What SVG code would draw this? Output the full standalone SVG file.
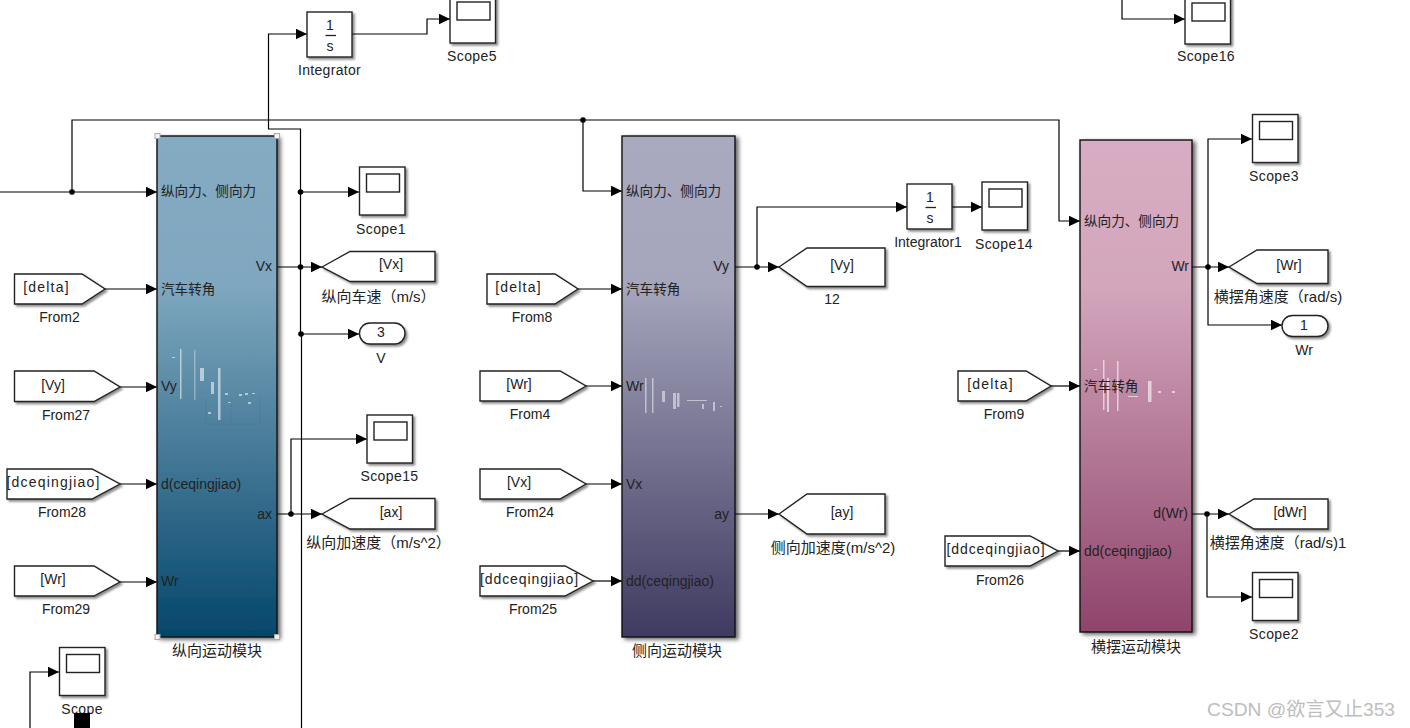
<svg xmlns="http://www.w3.org/2000/svg" xmlns:xlink="http://www.w3.org/1999/xlink" width="1410" height="728" viewBox="0 0 1410 728">
<style>
text{font-family:"Liberation Sans","Noto Sans CJK SC",sans-serif;font-size:14px;fill:#222}
.m{text-anchor:middle}
.e{text-anchor:end}
.c{font-size:15px}
.p{font-size:13.600px}
.s{letter-spacing:.4px}
.b{fill:#fff;stroke:#222;stroke-width:1.4;filter:url(#sh)}
.sub{stroke:#111;stroke-width:1.4;filter:url(#sh2)}
.w{fill:none;stroke:#000;stroke-width:1.2}
.a{fill:#000;stroke:none}
.i{fill:#fff;stroke:#222;stroke-width:1.4}
.h{fill:#f2f2f2;stroke:#aaa;stroke-width:1}
.t rect{fill:#fff;stroke:none}
.t path{fill:none;stroke:#2f5f7f;stroke-width:.6;stroke-dasharray:1 1}
</style>
<defs>
<linearGradient id="g1" x1="0" y1="0" x2="0" y2="1"><stop offset="0" stop-color="#85abc2"/><stop offset=".3" stop-color="#7fa7bf"/><stop offset="1" stop-color="#04466b"/></linearGradient>
<linearGradient id="g2" x1="0" y1="0" x2="0" y2="1"><stop offset="0" stop-color="#a9a9c0"/><stop offset=".3" stop-color="#a5a5bc"/><stop offset="1" stop-color="#3f3a60"/></linearGradient>
<linearGradient id="g3" x1="0" y1="0" x2="0" y2="1"><stop offset="0" stop-color="#d8acc2"/><stop offset=".3" stop-color="#d3a6bc"/><stop offset="1" stop-color="#8f446b"/></linearGradient>
<filter id="sh" x="-20%" y="-20%" width="150%" height="150%"><feDropShadow dx="2" dy="2" stdDeviation="1.2" flood-color="#000" flood-opacity=".45"/></filter>
<filter id="sh2" x="-10%" y="-5%" width="125%" height="110%"><feDropShadow dx="3" dy="2" stdDeviation="2" flood-color="#000" flood-opacity=".6"/></filter>
<marker id="arr" markerUnits="userSpaceOnUse" markerWidth="12" markerHeight="12" refX="11.500" refY="5.500" orient="auto"><path class="a" d="M0 0L11.500 5.500L0 11Z"/></marker>
<g id="scope"><rect class="b" x="0" y="0" width="45.500" height="48"/><rect class="i" x="7" y="7" width="33" height="18"/></g>
<g id="intg"><rect class="b" x="0" y="0" width="45" height="45"/><path d="M18.500 23.500H29" stroke="#222" stroke-width="1.300"/></g>
</defs>
<rect width="1410" height="728" fill="#fff"/>

<g id="connectors">
<path class="w" d="M0 192H72"/>
<path class="w" d="M72 192H157" marker-end="url(#arr)"/>
<path class="w" d="M72 192V120H1059V221H1080" marker-end="url(#arr)"/>
<path class="w" d="M583 120V191H622" marker-end="url(#arr)"/>
<path class="w" d="M268.500 120V34H307" marker-end="url(#arr)"/>
<path class="w" d="M268.500 120V129H300.500V334H301.500V728"/>
<path class="w" d="M352 34H427V19H450" marker-end="url(#arr)"/>
<path class="w" d="M301 192H359" marker-end="url(#arr)"/>
<path class="w" d="M277 267H322" marker-end="url(#arr)"/>
<path class="w" d="M301 334H359" marker-end="url(#arr)"/>
<path class="w" d="M277 514H322" marker-end="url(#arr)"/>
<path class="w" d="M291 514V439H367" marker-end="url(#arr)"/>
<path class="w" d="M105 289H157" marker-end="url(#arr)"/>
<path class="w" d="M120 387H157" marker-end="url(#arr)"/>
<path class="w" d="M120 484H157" marker-end="url(#arr)"/>
<path class="w" d="M120 582H157" marker-end="url(#arr)"/>
<path class="w" d="M30 728V672H59" marker-end="url(#arr)"/>
<path class="w" d="M578 289H622" marker-end="url(#arr)"/>
<path class="w" d="M586 386H622" marker-end="url(#arr)"/>
<path class="w" d="M586 484H622" marker-end="url(#arr)"/>
<path class="w" d="M593 581H622" marker-end="url(#arr)"/>
<path class="w" d="M735 267H779" marker-end="url(#arr)"/>
<path class="w" d="M757 267V207H907" marker-end="url(#arr)"/>
<path class="w" d="M952 207H982" marker-end="url(#arr)"/>
<path class="w" d="M735 514H779" marker-end="url(#arr)"/>
<path class="w" d="M1051 386H1080" marker-end="url(#arr)"/>
<path class="w" d="M1058 551H1080" marker-end="url(#arr)"/>
<path class="w" d="M1192 267H1229" marker-end="url(#arr)"/>
<path class="w" d="M1208 267V139H1252" marker-end="url(#arr)"/>
<path class="w" d="M1208 267V325H1282" marker-end="url(#arr)"/>
<path class="w" d="M1192 514H1229" marker-end="url(#arr)"/>
<path class="w" d="M1207 514V597H1252" marker-end="url(#arr)"/>
<path class="w" d="M1122 0V19H1185" marker-end="url(#arr)"/>
<g fill="#000"><circle cx="72" cy="192" r="2.800"/><circle cx="583" cy="120" r="2.800"/><circle cx="300.500" cy="192" r="2.800"/><circle cx="300.500" cy="267" r="2.800"/><circle cx="301" cy="334" r="2.800"/><circle cx="291" cy="514" r="2.800"/><circle cx="757" cy="267" r="2.800"/><circle cx="1208" cy="267" r="2.800"/><circle cx="1207" cy="514" r="2.800"/></g>
</g>

<g id="longitudinal">
<rect class="sub" x="157" y="136" width="120" height="501" fill="url(#g1)"/>
<g class="t" opacity=".55"><rect x="180" y="349" width="1.500" height="50"/><rect x="194" y="350" width="1.500" height="50" opacity=".6"/><rect x="200" y="368" width="4" height="13"/><rect x="218" y="368" width="2.500" height="52"/><rect x="211" y="382" width="3" height="12"/><rect x="172" y="357" width="3" height="1"/><rect x="225" y="393" width="3" height="2"/><rect x="239" y="394" width="3" height="2"/><rect x="245" y="393" width="3" height="2"/><rect x="252" y="393" width="3" height="1"/><rect x="228" y="402" width="3" height="1"/><rect x="248" y="402" width="3" height="2"/><rect x="208" y="412" width="3" height="2"/><path d="M206 399V424H260V395M231 402V424"/></g>
<text class="p" x="161" y="196">纵向力、侧向力</text><text class="p" x="161" y="294">汽车转角</text><text x="161" y="391">Vy</text><text x="161" y="489">d(ceqingjiao)</text><text x="161" y="586">Wr</text>
<text class="e" x="272" y="271">Vx</text><text class="e" x="272" y="519">ax</text>
<rect class="h" x="155" y="133.500" width="5" height="5"/><rect class="h" x="274.500" y="133.500" width="5" height="5"/><rect class="h" x="155" y="634.500" width="5" height="5"/><rect class="h" x="274.500" y="634.500" width="5" height="5"/>
<text class="m c" x="217" y="656">纵向运动模块</text>
</g>
<g id="lateral">
<rect class="sub" x="622" y="136" width="113" height="501" fill="url(#g2)"/>
<g class="t" opacity=".5"><rect x="636" y="383" width="1.500" height="1"/><rect x="645" y="378" width="1.500" height="35"/><rect x="652" y="378" width="1.500" height="35"/><rect x="662" y="391" width="3" height="11"/><rect x="673" y="393" width="3" height="16"/><rect x="677" y="393" width="2.500" height="14"/><rect x="687" y="400" width="20" height="1"/><rect x="702" y="404" width="2" height="5"/><rect x="713" y="402" width="2" height="9"/><rect x="720" y="406" width="2" height="1"/></g>
<text class="p" x="626" y="196">纵向力、侧向力</text><text class="p" x="626" y="294">汽车转角</text><text x="626" y="391">Wr</text><text x="626" y="489">Vx</text><text x="626" y="586">dd(ceqingjiao)</text>
<text class="e" x="729" y="271">Vy</text><text class="e" x="729" y="519">ay</text>
<text class="m c" x="677" y="656">侧向运动模块</text>
</g>
<g id="yaw">
<rect class="sub" x="1080" y="140" width="112" height="492" fill="url(#g3)"/>
<g class="t" opacity=".6"><rect x="1103" y="360" width="1.500" height="50"/><rect x="1117" y="361" width="1.500" height="50"/><rect x="1107" y="378" width="2" height="34"/><rect x="1148" y="381" width="3.500" height="21"/><rect x="1128" y="396" width="10" height="1"/><rect x="1158" y="391" width="3" height="2"/><rect x="1172" y="391" width="3" height="2"/><rect x="1094" y="369" width="3" height="1"/></g>
<text class="p" x="1084" y="226">纵向力、侧向力</text><text class="p" x="1084" y="391">汽车转角</text><text x="1084" y="556">dd(ceqingjiao)</text>
<text class="e" x="1189" y="271">Wr</text><text class="e" x="1188" y="518">d(Wr)</text>
<text class="m c" x="1136" y="652">横摆运动模块</text>
</g>

<g id="Integrator"><use href="#intg" x="307" y="12"/><text class="m" x="330" y="30">1</text><text class="m" x="330" y="51">s</text><text class="m" x="329.500" y="75" letter-spacing=".3">Integrator</text></g>
<g id="Scope5"><use href="#scope" x="450" y="-5"/><text class="m s" x="472" y="61">Scope5</text></g>
<g id="Scope1"><use href="#scope" x="359.500" y="167"/><text class="m s" x="381" y="234">Scope1</text></g>
<g id="GotoVx"><polygon class="b" points="322,267 350,251.500 435,251.500 435,281.500 350,281.500"/><text class="m" x="391" y="269">[Vx]</text><text class="m c" x="378.500" y="302">纵向车速（m/s）</text></g>
<g id="V"><rect class="b" x="359.500" y="323" width="45.500" height="21" rx="10.500"/><text class="m" x="381" y="337">3</text><text class="m" x="381" y="363">V</text></g>
<g id="Scope15"><use href="#scope" x="367" y="415"/><text class="m s" x="389.500" y="481">Scope15</text></g>
<g id="Gotoax"><polygon class="b" points="322,514 350,498.500 435,498.500 435,529 350,529"/><text class="m" x="391" y="517">[ax]</text><text class="m c" x="378.500" y="548">纵向加速度（m/s^2）</text></g>
<g id="From2"><polygon class="b" points="14.500,274 82,274 105,289 82,304 14.500,304"/><text class="m" x="46.500" y="292" letter-spacing="1.200">[delta]</text><text class="m" x="59.500" y="322">From2</text></g>
<g id="From27"><polygon class="b" points="14.500,371 94,371 120,387 94,401.500 14.500,401.500"/><text class="m" x="53" y="390">[Vy]</text><text class="m" x="66" y="420">From27</text></g>
<g id="From28"><polygon class="b" points="7,469 92,469 120,484 92,499 7,499"/><text class="m" x="53.500" y="487" letter-spacing="1.200">[dceqingjiao]</text><text class="m" x="62" y="517">From28</text></g>
<g id="From29"><polygon class="b" points="14.500,566 94,566 120,582 94,596 14.500,596"/><text class="m" x="53" y="584">[Wr]</text><text class="m" x="66" y="614">From29</text></g>
<g id="Scope"><use href="#scope" x="59.500" y="647.500"/><text class="m s" x="82" y="714">Scope</text><rect x="74" y="713" width="16" height="15" fill="#000"/></g>

<g id="From8"><polygon class="b" points="487,274 555,274 578,289 555,304 487,304"/><text class="m" x="518.500" y="292" letter-spacing="1.200">[delta]</text><text class="m" x="532" y="322">From8</text></g>
<g id="From4"><polygon class="b" points="480,371 560,371 586,386 560,401 480,401"/><text class="m" x="519" y="389">[Wr]</text><text class="m" x="530" y="419">From4</text></g>
<g id="From24"><polygon class="b" points="480,469 560,469 586,484 560,499 480,499"/><text class="m" x="519" y="487">[Vx]</text><text class="m" x="530" y="517">From24</text></g>
<g id="From25"><polygon class="b" points="480,566 565,566 593,581 565,596 480,596"/><text class="m" x="529.500" y="584" letter-spacing=".9">[ddceqingjiao]</text><text class="m" x="533" y="614">From25</text></g>
<g id="Integrator1"><use href="#intg" x="907" y="184"/><text class="m" x="930" y="202">1</text><text class="m" x="930" y="223">s</text><text class="m" x="928" y="247">Integrator1</text></g>
<g id="Scope14"><use href="#scope" x="982" y="182"/><text class="m s" x="1004" y="249">Scope14</text></g>
<g id="Goto12"><polygon class="b" points="779,267 807,248 885,248 885,286.500 807,286.500"/><text class="m" x="842" y="270">[Vy]</text><text class="m" x="832" y="304">12</text></g>
<g id="Gotoay"><polygon class="b" points="779,514 807,494 885,494 885,534 807,534"/><text class="m" x="842" y="517">[ay]</text><text class="m c" x="833" y="553">侧向加速度(m/s^2)</text></g>

<g id="From9"><polygon class="b" points="958,371 1026,371 1051,386 1026,401 958,401"/><text class="m" x="990.500" y="389" letter-spacing="1.200">[delta]</text><text class="m" x="1004" y="419">From9</text></g>
<g id="From26"><polygon class="b" points="945,536 1030,536 1058,551 1030,566 945,566"/><text class="m" x="996" y="554" letter-spacing=".9">[ddceqingjiao]</text><text class="m" x="1000" y="585">From26</text></g>
<g id="Scope16"><use href="#scope" x="1185" y="-4"/><text class="m s" x="1206" y="61">Scope16</text></g>
<g id="Scope3"><use href="#scope" x="1252.500" y="114.500"/><text class="m s" x="1274" y="181">Scope3</text></g>
<g id="GotoWr"><polygon class="b" points="1229,267 1257,250 1328,250 1328,283.500 1257,283.500"/><text class="m" x="1289" y="270">[Wr]</text><text class="m c" x="1278" y="302">横摆角速度（rad/s)</text></g>
<g id="Wr"><rect class="b" x="1282" y="315.500" width="46" height="21" rx="10.500"/><text class="m" x="1304" y="330">1</text><text class="m" x="1304" y="355">Wr</text></g>
<g id="GotodWr"><polygon class="b" points="1229,514 1254,499 1328,499 1328,529 1254,529"/><text class="m" x="1290" y="517">[dWr]</text><text class="m c" x="1278" y="548">横摆角速度（rad/s)1</text></g>
<g id="Scope2"><use href="#scope" x="1252.500" y="572.500"/><text class="m s" x="1274" y="639">Scope2</text></g>
<text id="watermark" x="1395" y="716" text-anchor="end" style="font-size:19.200px;fill:#bdbdbd">CSDN @欲言又止353</text>
</svg>
